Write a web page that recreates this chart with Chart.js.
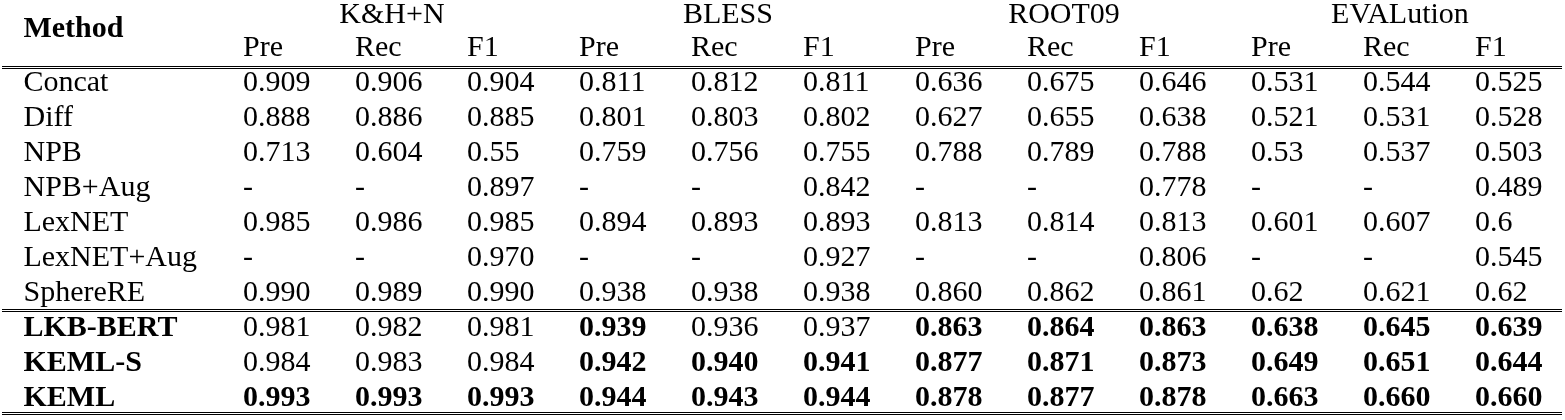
<!DOCTYPE html>
<html>
<head>
<meta charset="utf-8">
<script src="https://cdn.jsdelivr.net/npm/chart.js@4"></script>
<style>
  html, body { margin: 0; padding: 0; background: #fff; }
  #wrap { width: 1565px; height: 420px; }
  .pre { font-family: "Liberation Serif"; position: absolute; left: -999px; }
</style>
</head>
<body>
<span class="pre">0.9 <b>0.9</b></span>
<div id="wrap"><canvas id="table"></canvas></div>
<script>
// Table contents
const methods = ["Concat", "Diff", "NPB", "NPB+Aug", "LexNET", "LexNET+Aug", "SphereRE", "LKB-BERT", "KEML-S", "KEML"];
const groups = ["K&H+N", "BLESS", "ROOT09", "EVALution"];
const metrics = ["Pre", "Rec", "F1"];

const khn = [
  ["0.909", "0.906", "0.904"], ["0.888", "0.886", "0.885"], ["0.713", "0.604", "0.55"],
  ["-", "-", "0.897"], ["0.985", "0.986", "0.985"], ["-", "-", "0.970"],
  ["0.990", "0.989", "0.990"], ["0.981", "0.982", "0.981"], ["0.984", "0.983", "0.984"],
  ["0.993", "0.993", "0.993"],
];
const bless = [
  ["0.811", "0.812", "0.811"], ["0.801", "0.803", "0.802"], ["0.759", "0.756", "0.755"],
  ["-", "-", "0.842"], ["0.894", "0.893", "0.893"], ["-", "-", "0.927"],
  ["0.938", "0.938", "0.938"], ["0.939", "0.936", "0.937"], ["0.942", "0.940", "0.941"],
  ["0.944", "0.943", "0.944"],
];
const root09 = [
  ["0.636", "0.675", "0.646"], ["0.627", "0.655", "0.638"], ["0.788", "0.789", "0.788"],
  ["-", "-", "0.778"], ["0.813", "0.814", "0.813"], ["-", "-", "0.806"],
  ["0.860", "0.862", "0.861"], ["0.863", "0.864", "0.863"], ["0.877", "0.871", "0.873"],
  ["0.878", "0.877", "0.878"],
];
const evalution = [
  ["0.531", "0.544", "0.525"], ["0.521", "0.531", "0.528"], ["0.53", "0.537", "0.503"],
  ["-", "-", "0.489"], ["0.601", "0.607", "0.6"], ["-", "-", "0.545"],
  ["0.62", "0.621", "0.62"], ["0.638", "0.645", "0.639"], ["0.649", "0.651", "0.644"],
  ["0.663", "0.660", "0.660"],
];
// bold flags per row (12 value columns)
const boldCells = [
  null, null, null, null, null, null, null,
  [0,0,0, 1,0,0, 1,1,1, 1,1,1],
  [0,0,0, 1,1,1, 1,1,1, 1,1,1],
  [1,1,1, 1,1,1, 1,1,1, 1,1,1],
];
const boldMethods = [0, 0, 0, 0, 0, 0, 0, 1, 1, 1];

const tables = [khn, bless, root09, evalution];
const METHOD_COL = -1.96;
const rules = [-0.43, 6.51, 9.46];
const FONT = "\"Liberation Serif\", \"DejaVu Serif\", serif";

// build cells
const cells = [];
cells.push({ x: METHOD_COL, y: -1.55, text: "Method", bold: true });
groups.forEach((g, gi) => {
  cells.push({ x: gi * 3 + 1.33, y: -1.95, text: g, bold: false, center: true });
  metrics.forEach((m, mi) => cells.push({ x: gi * 3 + mi, y: -1, text: m, bold: false }));
});
methods.forEach((name, r) => {
  cells.push({ x: METHOD_COL, y: r, text: name, bold: !!boldMethods[r] });
  tables.forEach((t, gi) => {
    t[r].forEach((v, mi) => {
      const c = gi * 3 + mi;
      cells.push({ x: c, y: r, text: v, bold: !!(boldCells[r] && boldCells[r][c]) });
    });
  });
});

const tablePlugin = {
  id: "tableText",
  afterDatasetsDraw(chart) {
    const ctx = chart.ctx;
    const ys = chart.scales.y;
    const meta = chart.getDatasetMeta(0);
    ctx.save();
    ctx.fillStyle = "#000";
    ctx.textBaseline = "middle";
    meta.data.forEach((pt, i) => {
      const c = cells[i];
      ctx.font = (c.bold ? "bold " : "normal ") + "30px " + FONT;
      ctx.textAlign = c.center ? "center" : "left";
      ctx.fillText(c.text, pt.x, pt.y + 1);
    });
    ctx.strokeStyle = "#000";
    ctx.lineWidth = 1;
    rules.forEach(r => {
      const y = Math.round(ys.getPixelForValue(r));
      [y - 1, y + 1].forEach(yy => {
        ctx.beginPath();
        ctx.moveTo(2, yy + 0.5);
        ctx.lineTo(1562, yy + 0.5);
        ctx.stroke();
      });
    });
    ctx.restore();
  },
};

const chart = new Chart(document.getElementById("table"), {
  type: "scatter",
  plugins: [tablePlugin],
  data: {
    datasets: [{
      data: cells.map(c => ({ x: c.x, y: c.y })),
      pointRadius: 0,
      pointHoverRadius: 0,
    }],
  },
  options: {
    responsive: true,
    maintainAspectRatio: false,
    animation: false,
    layout: { padding: 0 },
    plugins: { legend: { display: false }, tooltip: { enabled: false } },
    scales: {
      x: { type: "linear", display: false, min: -243 / 112, max: (1565 - 243) / 112 },
      y: { type: "linear", display: false, reverse: true, min: -82 / 35, max: (420 - 82) / 35 },
    },
  },
});

// redraw once the serif face is ready
Promise.all([
  document.fonts.load("30px \"Liberation Serif\""),
  document.fonts.load("bold 30px \"Liberation Serif\""),
]).then(() => chart.update());
</script>
</body>
</html>
